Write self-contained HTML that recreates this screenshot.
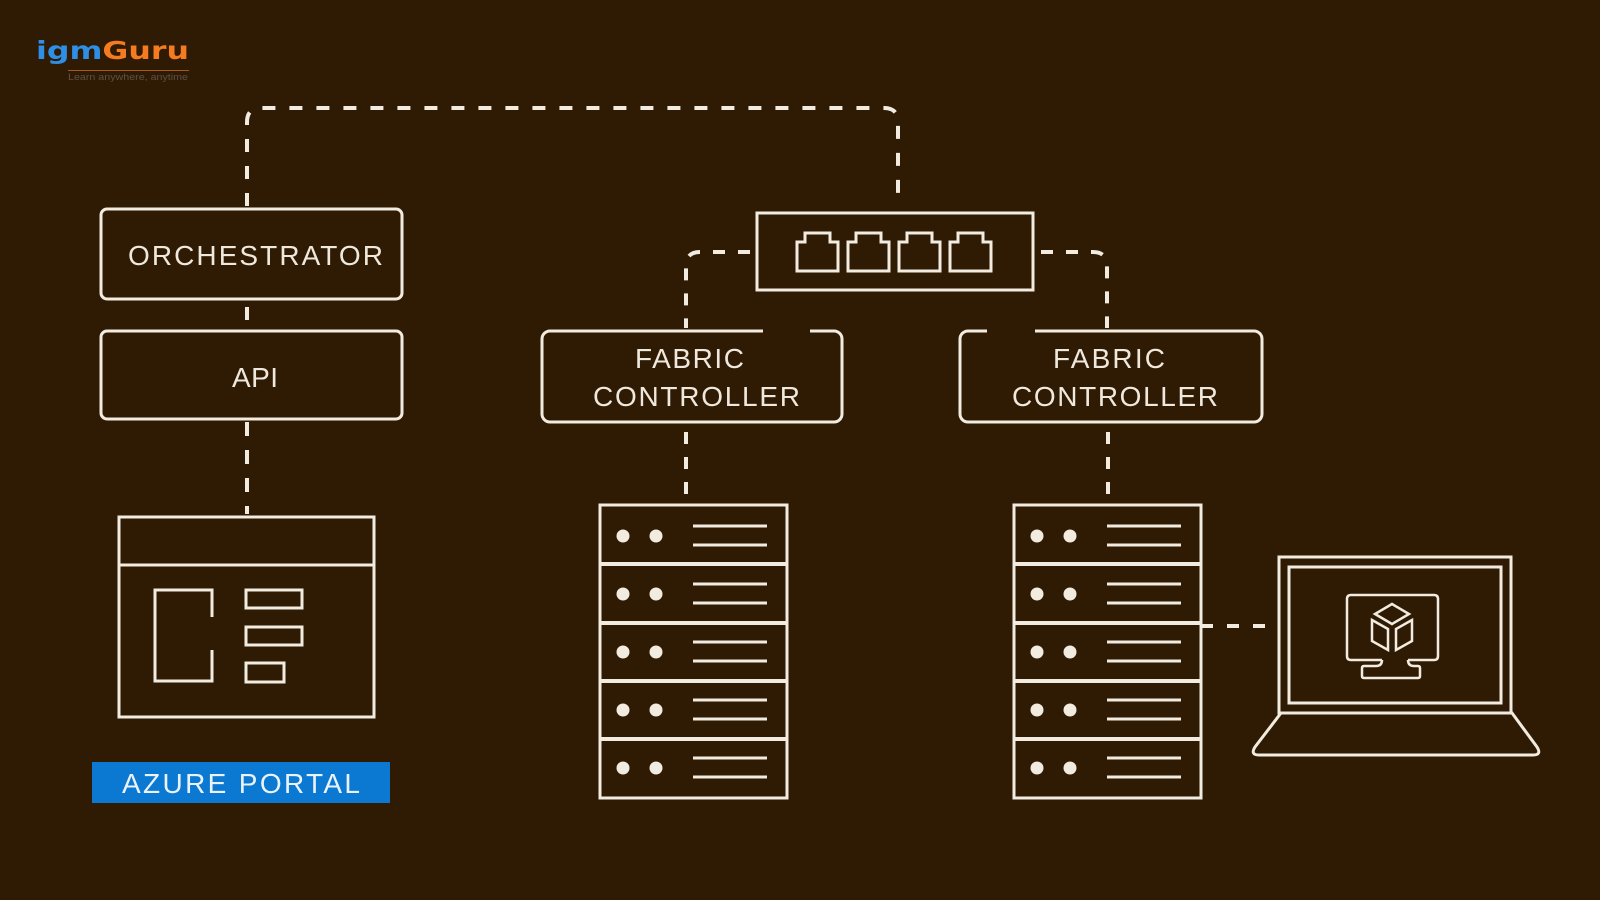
<!DOCTYPE html>
<html>
<head>
<meta charset="utf-8">
<style>
  html,body{margin:0;padding:0;background:#2f1b03;}
  body{width:1600px;height:900px;overflow:hidden;}
  svg{display:block;}
</style>
</head>
<body>
<svg width="1600" height="900" viewBox="0 0 1600 900" xmlns="http://www.w3.org/2000/svg">
  <rect x="0" y="0" width="1600" height="900" fill="#2f1b03"/>

  <!-- Logo -->
  <text x="36" y="59" font-family="'DejaVu Sans', 'Liberation Sans', sans-serif" font-weight="bold" font-size="25" textLength="153" lengthAdjust="spacingAndGlyphs"><tspan fill="#2f8fe6">igm</tspan><tspan fill="#f47b20">Guru</tspan></text>
  <line x1="68" y1="70.5" x2="189" y2="70.5" stroke="#a35a1a" stroke-width="1"/>
  <text x="68" y="80" font-family="'Liberation Sans', sans-serif" font-size="9" fill="#5e5044" textLength="120" lengthAdjust="spacingAndGlyphs">Learn anywhere, anytime</text>

  <g fill="none" stroke="#f2ebdf">
    <!-- Dashed connectors -->
    <g stroke-width="4" stroke-linecap="butt">
      <path d="M247,208 V122 Q247,108 261,108 H884 Q898,108 898,122 V198" stroke-dasharray="13 14" stroke-dashoffset="-2"/>
      <path d="M247,307 V320"/>
      <path d="M247,422 V514" stroke-dasharray="14 14"/>
      <path d="M750,252 H700 Q686,252 686,266 V328" stroke-dasharray="12 13"/>
      <path d="M1041,252 H1093 Q1107,252 1107,266 V328" stroke-dasharray="12 13"/>
      <path d="M686,432 V500" stroke-dasharray="12 13"/>
      <path d="M1108,432 V500" stroke-dasharray="12 13"/>
      <path d="M1201,626 H1266" stroke-dasharray="12 14"/>
    </g>

    <!-- Boxes -->
    <g stroke-width="3">
      <rect x="101" y="209" width="301" height="90" rx="6"/>
      <rect x="101" y="331" width="301" height="88" rx="6"/>
      <rect x="542" y="331" width="300" height="91" rx="8"/>
      <rect x="960" y="331" width="302" height="91" rx="8"/>
      <rect x="757" y="213" width="276" height="77"/>
    </g>
  </g>
  <!-- gaps in FC tops -->
  <rect x="763" y="327" width="47" height="8" fill="#2f1b03"/>
  <rect x="987" y="327" width="48" height="8" fill="#2f1b03"/>

  <g fill="none" stroke="#f2ebdf" stroke-width="3">
    <!-- Ports -->
    <path d="M797,271 V242 H805 V233 H830 V242 H838 V271 Z"/>
    <path d="M848,271 V242 H856 V233 H881 V242 H889 V271 Z"/>
    <path d="M899,271 V242 H907 V233 H932 V242 H940 V271 Z"/>
    <path d="M950,271 V242 H958 V233 H983 V242 H991 V271 Z"/>

    <!-- Portal window -->
    <rect x="119" y="517" width="255" height="200"/>
    <line x1="119" y1="565" x2="374" y2="565"/>
    <path d="M212,617 V590 H155 V681 H212 V650"/>
    <rect x="246" y="590" width="56" height="18"/>
    <rect x="246" y="627" width="56" height="18"/>
    <rect x="246" y="663" width="38" height="19"/>

    <!-- Servers -->
    <rect x="600" y="505" width="187" height="293"/>
    <rect x="1014" y="505" width="187" height="293"/>
    <g stroke-width="4">
      <line x1="600" y1="564" x2="787" y2="564"/>
      <line x1="600" y1="623" x2="787" y2="623"/>
      <line x1="600" y1="681" x2="787" y2="681"/>
      <line x1="600" y1="739" x2="787" y2="739"/>
      <line x1="1014" y1="564" x2="1201" y2="564"/>
      <line x1="1014" y1="623" x2="1201" y2="623"/>
      <line x1="1014" y1="681" x2="1201" y2="681"/>
      <line x1="1014" y1="739" x2="1201" y2="739"/>
    </g>
    <g>
      <line x1="693" y1="526" x2="767" y2="526"/><line x1="693" y1="545" x2="767" y2="545"/>
      <line x1="693" y1="584" x2="767" y2="584"/><line x1="693" y1="603" x2="767" y2="603"/>
      <line x1="693" y1="642" x2="767" y2="642"/><line x1="693" y1="661" x2="767" y2="661"/>
      <line x1="693" y1="700" x2="767" y2="700"/><line x1="693" y1="719" x2="767" y2="719"/>
      <line x1="693" y1="758" x2="767" y2="758"/><line x1="693" y1="777" x2="767" y2="777"/>

      <line x1="1107" y1="526" x2="1181" y2="526"/><line x1="1107" y1="545" x2="1181" y2="545"/>
      <line x1="1107" y1="584" x2="1181" y2="584"/><line x1="1107" y1="603" x2="1181" y2="603"/>
      <line x1="1107" y1="642" x2="1181" y2="642"/><line x1="1107" y1="661" x2="1181" y2="661"/>
      <line x1="1107" y1="700" x2="1181" y2="700"/><line x1="1107" y1="719" x2="1181" y2="719"/>
      <line x1="1107" y1="758" x2="1181" y2="758"/><line x1="1107" y1="777" x2="1181" y2="777"/>
    </g>

    <!-- Laptop -->
    <rect x="1279" y="557" width="232" height="156"/>
    <rect x="1289" y="567" width="212" height="136"/>
    <path d="M1281,713 H1512 L1537,747 Q1542,755 1533,755 H1259 Q1250,755 1255,747 Z"/>

    <!-- Monitor icon -->
    <g stroke-width="2.5">
      <path d="M1382,660 H1351 Q1347,660 1347,656 V599 Q1347,595 1351,595 H1434 Q1438,595 1438,599 V656 Q1438,660 1434,660 H1408"/>
      <path d="M1382,660 Q1382,666 1376,666 H1364 Q1362,666 1362,668 V676 Q1362,678 1364,678 H1418 Q1420,678 1420,676 V668 Q1420,666 1418,666 H1414 Q1408,666 1408,660"/>
      <path d="M1392,604 L1409,614 L1392,624 L1375,614 Z"/>
      <path d="M1372,620 L1388,629 V650 L1372,641 Z"/>
      <path d="M1412,620 L1396,629 V650 L1412,641 Z"/>
    </g>
  </g>

  <!-- Server dots -->
  <g fill="#f2ebdf">
    <circle cx="623" cy="536" r="6.5"/><circle cx="656" cy="536" r="6.5"/>
    <circle cx="623" cy="594" r="6.5"/><circle cx="656" cy="594" r="6.5"/>
    <circle cx="623" cy="652" r="6.5"/><circle cx="656" cy="652" r="6.5"/>
    <circle cx="623" cy="710" r="6.5"/><circle cx="656" cy="710" r="6.5"/>
    <circle cx="623" cy="768" r="6.5"/><circle cx="656" cy="768" r="6.5"/>
    <circle cx="1037" cy="536" r="6.5"/><circle cx="1070" cy="536" r="6.5"/>
    <circle cx="1037" cy="594" r="6.5"/><circle cx="1070" cy="594" r="6.5"/>
    <circle cx="1037" cy="652" r="6.5"/><circle cx="1070" cy="652" r="6.5"/>
    <circle cx="1037" cy="710" r="6.5"/><circle cx="1070" cy="710" r="6.5"/>
    <circle cx="1037" cy="768" r="6.5"/><circle cx="1070" cy="768" r="6.5"/>
  </g>

  <!-- Azure portal banner -->
  <rect x="92" y="762" width="298" height="41" fill="#0b78d2"/>

  <!-- Labels -->
  <g font-family="'Liberation Sans', sans-serif" font-size="28" fill="#efe8dc">
    <text x="128" y="265" textLength="255" lengthAdjust="spacing">ORCHESTRATOR</text>
    <text x="232" y="387" textLength="46" lengthAdjust="spacing">API</text>
    <text x="635" y="368" textLength="109" lengthAdjust="spacing">FABRIC</text>
    <text x="593" y="406" textLength="207" lengthAdjust="spacing">CONTROLLER</text>
    <text x="1053" y="368" textLength="112" lengthAdjust="spacing">FABRIC</text>
    <text x="1012" y="406" textLength="206" lengthAdjust="spacing">CONTROLLER</text>
    <text x="122" y="793" textLength="238" lengthAdjust="spacing" fill="#eaf2fa">AZURE PORTAL</text>
  </g>
</svg>
</body>
</html>
